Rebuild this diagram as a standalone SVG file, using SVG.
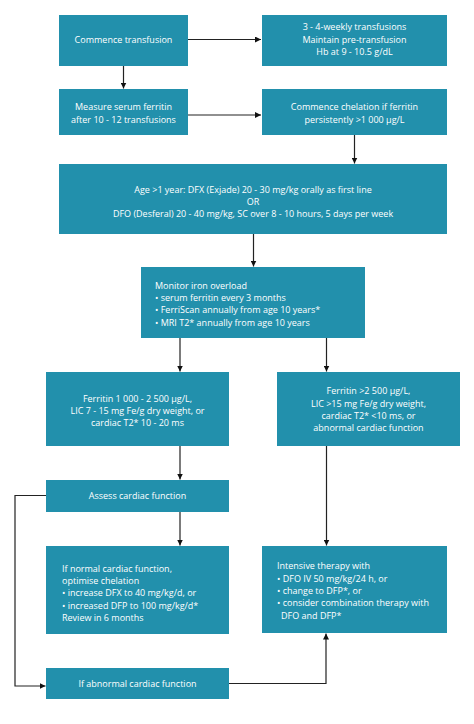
<svg xmlns="http://www.w3.org/2000/svg" width="474" height="724" viewBox="0 0 474 724">
<style>
.box{fill:#2290ac}
text{font-family:"Open Sans","Liberation Sans",sans-serif;font-size:9px;fill:#ffffff}
.c{text-anchor:middle}
.ln{fill:none;stroke:#222222;stroke-width:1.2}
</style>
<defs>
<marker id="ah" viewBox="0 0 8 8" refX="8" refY="4" markerWidth="6" markerHeight="6" markerUnits="userSpaceOnUse" orient="auto">
<path d="M0,0 L8,4 L0,8 Z" fill="#111111"/>
</marker>
</defs>
<rect width="474" height="724" fill="#ffffff"/>
<g id="connectors">
<path class="ln" d="M188,39.5 H261" marker-end="url(#ah)"/>
<path class="ln" d="M123.5,66 V88.5" marker-end="url(#ah)"/>
<path class="ln" d="M188,115 H261" marker-end="url(#ah)"/>
<path class="ln" d="M354.5,135 V163.5" marker-end="url(#ah)"/>
<path class="ln" d="M253.5,234 V266.5" marker-end="url(#ah)"/>
<path class="ln" d="M180,338 V371.5" marker-end="url(#ah)"/>
<path class="ln" d="M326.5,338 V371.5" marker-end="url(#ah)"/>
<path class="ln" d="M180,446 V479.5" marker-end="url(#ah)"/>
<path class="ln" d="M180,512 V545.5" marker-end="url(#ah)"/>
<path class="ln" d="M326.5,446 V545.5" marker-end="url(#ah)"/>
<path class="ln" d="M46,495.5 H15 V686 H45.5" marker-end="url(#ah)"/>
<path class="ln" d="M229,683.5 H326 V633.5" marker-end="url(#ah)"/>
</g>
<g id="n1"><rect class="box" x="59" y="15" width="129" height="51"/>
<text class="c" x="123.5" y="42.5">Commence transfusion</text></g>
<g id="n2"><rect class="box" x="262" y="15" width="185" height="51"/>
<text class="c" x="354.5" y="30">3 - 4-weekly transfusions</text>
<text class="c" x="354.5" y="42.5">Maintain pre-transfusion</text>
<text class="c" x="354.5" y="55">Hb at 9 - 10.5 g/dL</text></g>
<g id="n3"><rect class="box" x="59" y="89" width="129" height="46"/>
<text class="c" x="123.5" y="110">Measure serum ferritin</text>
<text class="c" x="123.5" y="122.5">after 10 - 12 transfusions</text></g>
<g id="n4"><rect class="box" x="262" y="89" width="185" height="46"/>
<text class="c" x="354.5" y="110">Commence chelation if ferritin</text>
<text class="c" x="354.5" y="122.5">persistently &gt;1 000 µg/L</text></g>
<g id="n5"><rect class="box" x="59" y="164" width="388" height="70"/>
<text class="c" x="253" y="192.5">Age &gt;1 year: DFX (Exjade) 20 - 30 mg/kg orally as first line</text>
<text class="c" x="253" y="204.5">OR</text>
<text class="c" x="253" y="216.5">DFO (Desferal) 20 - 40 mg/kg, SC over 8 - 10 hours, 5 days per week</text></g>
<g id="n6"><rect class="box" x="141" y="267" width="224" height="71"/>
<text x="155" y="288.5">Monitor iron overload</text>
<text x="155" y="300.5">• serum ferritin every 3 months</text>
<text x="155" y="313">• FerriScan annually from age 10 years*</text>
<text x="155" y="325.5">• MRI T2* annually from age 10 years</text></g>
<g id="n7"><rect class="box" x="46" y="372" width="183" height="74"/>
<text class="c" x="137.5" y="401.5">Ferritin 1 000 - 2 500 µg/L,</text>
<text class="c" x="137.5" y="414">LIC 7 - 15 mg Fe/g dry weight, or</text>
<text class="c" x="137.5" y="425.5">cardiac T2* 10 - 20 ms</text></g>
<g id="n8"><rect class="box" x="277" y="372" width="183" height="74"/>
<text class="c" x="368.5" y="394">Ferritin &gt;2 500 µg/L,</text>
<text class="c" x="368.5" y="406.5">LIC &gt;15 mg Fe/g dry weight,</text>
<text class="c" x="368.5" y="418.5">cardiac T2* &lt;10 ms, or</text>
<text class="c" x="368.5" y="430.5">abnormal cardiac function</text></g>
<g id="n9"><rect class="box" x="46" y="480" width="183" height="32"/>
<text class="c" x="137.5" y="498.5">Assess cardiac function</text></g>
<g id="n10"><rect class="box" x="46" y="546" width="183" height="88"/>
<text x="62" y="571.5">If normal cardiac function,</text>
<text x="62" y="584">optimise chelation</text>
<text x="62" y="596">• increase DFX to 40 mg/kg/d, or</text>
<text x="62" y="608.5">• increased DFP to 100 mg/kg/d*</text>
<text x="62" y="620.5">Review in 6 months</text></g>
<g id="n11"><rect class="box" x="262" y="546" width="185" height="87"/>
<text x="277" y="569">Intensive therapy with</text>
<text x="277" y="582">• DFO IV 50 mg/kg/24 h, or</text>
<text x="277" y="594">• change to DFP*, or</text>
<text x="277" y="606">• consider combination therapy with</text>
<text x="281" y="618.5">DFO and DFP*</text></g>
<g id="n12"><rect class="box" x="46" y="668" width="183" height="31"/>
<text class="c" x="137.5" y="686.5">If abnormal cardiac function</text></g>
</svg>
